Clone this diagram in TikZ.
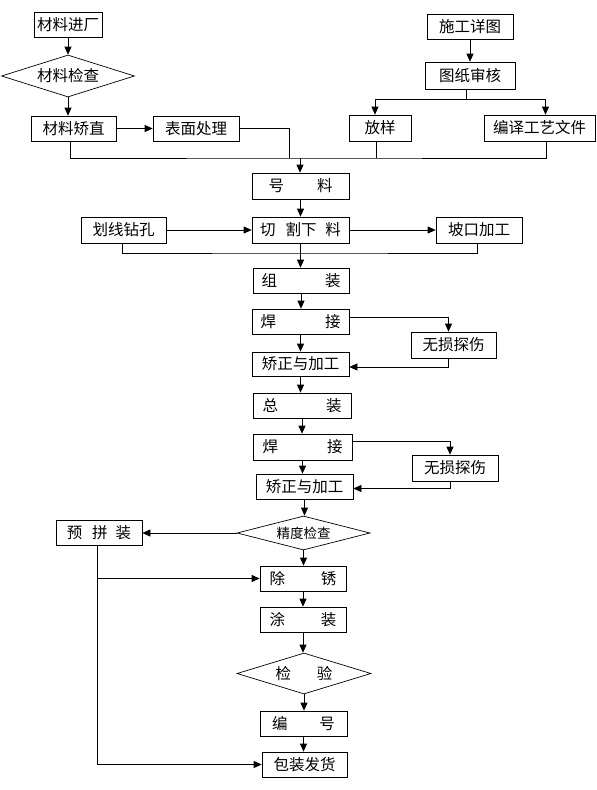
\documentclass[tikz,border=0pt]{standalone}
\usepackage{fontspec}
\newfontfamily\cjk{Noto Sans CJK SC}
\usepackage{tikz}
\usetikzlibrary{positioning, arrows.meta, shapes.geometric}

\begin{document}
\begin{tikzpicture}[x=1pt, y=-1pt,
  box/.style={draw, line width=0.7pt, inner sep=0pt, minimum height=25pt,
    font=\cjk\fontsize{15.5}{18}\selectfont},
  check/.style={draw, shape=diamond, aspect=3.5, inner sep=0pt, line width=0.7pt,
    font=\cjk\fontsize{15.5}{18}\selectfont},
  flow/.style={-{Triangle[width=7pt,length=8pt]}, line width=0.7pt},
  link/.style={line width=0.7pt}]
\useasboundingbox (0,0) rectangle (597,790);

% Material branch
\node[box, minimum width=68pt] (jinchang) at (68,25) {材料进厂};
\node[check, minimum width=133pt, minimum height=42pt] (jiancha) at (68,76) {材料检查};
\node[box, minimum width=85pt] (jiaozhi) at (73.5,128.5) {材料矫直};
\node[box, minimum width=86pt] (biaomian) at (196,128.5) {表面处理};

% Drawing branch
\node[box, minimum width=86pt] (xiangtu) at (470,26.5) {施工详图};
\node[box, minimum width=90pt, minimum height=27pt] (shenhe) at (470,75.5) {图纸审核};
\node[box, minimum width=62pt, minimum height=26pt] (fangyang) at (380,128) {放样};
\node[box, minimum width=111pt, minimum height=26pt] (bianyi) at (539.5,128) {编译工艺文件};

% Cutting
\node[box, minimum width=97pt, minimum height=26pt] (haoliao) at (300.5,186) {号\hspace{33pt}料};
\node[box, minimum width=85pt, minimum height=26pt] (huaxian) at (123.5,230) {划线钻孔};
\node[box, minimum width=97pt, minimum height=26pt] (qiege) at (300.5,230) {切\hspace{10pt}割下\hspace{9pt}料};
\node[box, minimum width=86pt, minimum height=26pt] (pokou) at (479,230) {坡口加工};

% Assembly and welding
\node[box, minimum width=96pt] (zuzhuang) at (301,280.5) {组\hspace{48pt}装};
\node[box, minimum width=97pt] (hanjie1) at (300.5,321.5) {焊\hspace{49pt}接};
\node[box, minimum width=85pt, minimum height=26pt] (wusun1) at (453.5,345) {无损探伤};
\node[box, minimum width=97pt, minimum height=24pt] (jiaozheng1) at (300.5,364) {矫正与加工};
\node[box, minimum width=98pt] (zongzhuang) at (302,405.5) {总\hspace{48pt}装};
\node[box, minimum width=99pt, minimum height=26pt] (hanjie2) at (302.5,447) {焊\hspace{49pt}接};
\node[box, minimum width=86pt, minimum height=26pt] (wusun2) at (455,468) {无损探伤};
\node[box, minimum width=97pt] (jiaozheng2) at (304.5,486.5) {矫正与加工};

% Finishing
\node[check, minimum width=133pt, minimum height=34pt,
  font=\cjk\fontsize{13.5}{16}\selectfont] (jingdu) at (303.5,533) {精度检查};
\node[box, minimum width=86pt] (yupin) at (99,532.5) {预\hspace{10pt}拼\hspace{8pt}装};
\node[box, minimum width=86pt] (chuxiu) at (303,578.5) {除\hspace{36pt}锈};
\node[box, minimum width=86pt] (tuzhuang) at (303,619.5) {涂\hspace{36pt}装};
\node[check, minimum width=134pt, minimum height=41pt] (jianyan) at (304,673.5) {检\hspace{26pt}验};
\node[box, minimum width=87pt] (bianhao) at (303.5,723.5) {编\hspace{32pt}号};
\node[box, minimum width=85pt] (baozhuang) at (304.5,764.5) {包装发货};

% Junctions
\coordinate (hub0) at (466,99);
\coordinate (hub1) at (300,158);
\coordinate (hubL) at (289,158);
\coordinate (hub2) at (300,253);

% Top connectors
\draw[flow] (jinchang) -- (jiancha);
\draw[flow] (jiancha.south) -- (jiancha.south |- jiaozhi.north);
\draw[flow] (jiaozhi) -- (biaomian);
\draw[flow] (xiangtu) -- (shenhe);
\draw[link] (shenhe.south -| hub0) -- (hub0);
\draw[flow] (hub0) -| ([xshift=-5pt]fangyang.north);
\draw[flow] (hub0) -| ([xshift=6pt]bianyi.north);
\draw[link] ([xshift=-3pt]jiaozhi.south) |- (hub1) -| ([xshift=7pt]bianyi.south);
\draw[link] (biaomian.east) -| (hubL);
\draw[link] ([xshift=-4pt]fangyang.south) -- ([xshift=-4pt]fangyang.south |- hub1);
\draw[flow] (hub1) -- (hub1 |- haoliao.north);

% Cutting connectors
\draw[flow] (haoliao) -- (qiege);
\draw[flow] (huaxian) -- (qiege);
\draw[flow] (qiege) -- (pokou);
\draw[link] ([xshift=-1pt]huaxian.south) |- (hub2) -| ([xshift=-2pt]pokou.south);
\draw[flow] (qiege.south) -- (qiege.south |- zuzhuang.north);

% Welding loops
\draw[flow] (zuzhuang.south) -- (zuzhuang.south |- hanjie1.north);
\draw[flow] ([yshift=4pt]hanjie1.east) -| ([xshift=-5pt]wusun1.north);
\draw[flow] (hanjie1) -- (jiaozheng1);
\draw[flow] ([xshift=-5pt]wusun1.south) |- ([yshift=-3pt]jiaozheng1.east);
\draw[flow] (jiaozheng1.south) -- (jiaozheng1.south |- zongzhuang.north);
\draw[flow] (zongzhuang.south) -- (zongzhuang.south |- hanjie2.north);
\draw[flow] ([yshift=6pt]hanjie2.east) -| ([xshift=-5pt]wusun2.north);
\draw[flow] (hanjie2.south) -- (hanjie2.south |- jiaozheng2.north);
\draw[flow] ([xshift=-5pt]wusun2.south) |- ([yshift=-2pt]jiaozheng2.east);
\draw[flow] (jiaozheng2.south) -- (jiaozheng2.south |- jingdu.north);

% Finishing connectors
\draw[flow] (jingdu.west) -- (jingdu.west -| yupin.east);
\draw[flow] (jingdu.south) -- (jingdu.south |- chuxiu.north);
\draw[flow] ([xshift=-2pt]yupin.south) |- (baozhuang.west);
\draw[flow] ([xshift=-2pt]yupin.south |- chuxiu.west) -- (chuxiu.west);
\draw[flow] (chuxiu) -- (tuzhuang);
\draw[flow] (tuzhuang.south) -- (tuzhuang.south |- jianyan.north);
\draw[flow] (jianyan.south) -- (jianyan.south |- bianhao.north);
\draw[flow] (bianhao.south) -- (bianhao.south |- baozhuang.north);

\end{tikzpicture}
\end{document}
